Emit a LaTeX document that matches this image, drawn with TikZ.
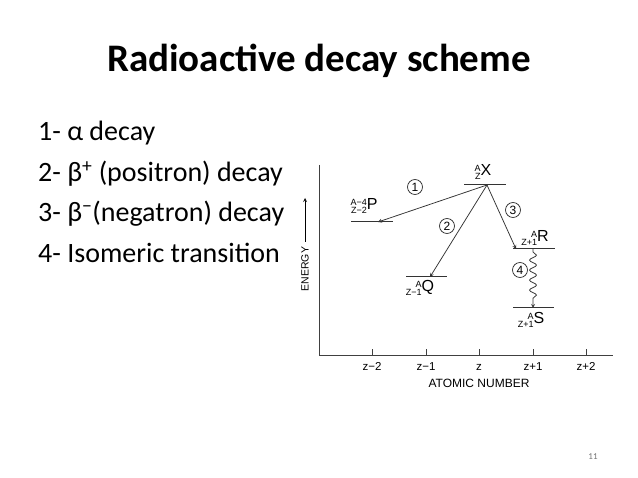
\documentclass[tikz,border=0pt]{standalone}
\usepackage{fontspec}
\setmainfont{Carlito}
\newfontfamily\diagfont{Liberation Sans}
\usetikzlibrary{arrows, decorations.pathmorphing}

\tikzstyle{item} = [anchor=base west, inner sep=0pt, font=\fontsize{28}{28}\selectfont]
\tikzstyle{level} = [line width=1pt, draw=black!80]
\tikzstyle{decay} = [line width=0.75pt, draw=black!80, ->, >=stealth]
\tikzstyle{num} = [circle, draw=black!80, line width=0.75pt, inner sep=0pt, minimum size=15pt, font=\diagfont\fontsize{12}{12}\selectfont]
\tikzstyle{nuc} = [inner sep=0pt, font=\diagfont]

\newcommand{\nucl}[3]{{\fontsize{9}{8}\selectfont\renewcommand{\arraystretch}{0.85}\begin{tabular}{@{}r@{}}#1\\#2\end{tabular}}{\fontsize{16}{16}\selectfont#3}}

\begin{document}
\begin{tikzpicture}[x=1pt, y=-1pt]
    \useasboundingbox (0,0) rectangle (638,478);
    \fill[white] (0,0) rectangle (638,478);

    \node (title) [anchor=base, font=\bfseries\fontsize{39}{39}\selectfont] at (319,72) {Radioactive decay scheme};

    \node (alpha) [item] at (38,141) {1- α decay};
    \node (betaplus) [item] at (38,181.5) {2- β\textsuperscript{+} (positron) decay};
    \node (betaminus) [item] at (38,222) {3- β\textsuperscript{−}(negatron) decay};
    \node (isomeric) [item] at (38,262.5) {4- Isomeric transition};

    % axes
    \coordinate (ytop) at (319,165);
    \coordinate (origin) at (319,355);
    \coordinate (xend) at (613,355);
    \draw[line width=0.9pt, draw=black!75] (ytop) -- (origin) -- (xend);
    \foreach \x/\lab [count=\i] in {372/z−2, 426/z−1, 479/z, 533/z+1, 586/z+2} {
        \draw[line width=0.9pt, draw=black!75] (\x,355) -- (\x,349);
        \node (tick\i) [anchor=base, font=\diagfont\fontsize{11.5}{11.5}\selectfont] at (\x,371) {\lab};
    }
    \node (xlabel) [anchor=base, font=\diagfont\fontsize{12}{12}\selectfont] at (479,388) {ATOMIC NUMBER};
    \node (ylabel) [rotate=90, inner sep=1pt, font=\diagfont\fontsize{10.5}{10.5}\selectfont] at (305,269) {ENERGY};
    \coordinate (yarrow) at (305,198);
    \draw[line width=0.75pt, ->, >=stealth, shorten <=4pt] (ylabel.east) -- (yarrow);

    % levels
    \draw[level] (464,185) -- (506,185);
    \draw[level] (351,222) -- (393,222);
    \draw[level] (406,277) -- (447,277);
    \draw[level] (513,249) -- (555,249);
    \draw[level] (513,308) -- (554,308);

    \coordinate (X) at (487,185);
    \coordinate (P) at (378,222);
    \coordinate (Q) at (430,277);
    \coordinate (R) at (516,249);
    \coordinate (Rtop) at (533,249);
    \coordinate (S) at (533,308);

    \node (Xlab) [nuc] at (483,173) {\nucl{A}{Z}{X}};
    \node (Plab) [nuc] at (364,207) {\nucl{A−4}{Z−2}{P}};
    \node (Qlab) [nuc] at (420,289) {\nucl{A}{Z−1}{Q}};
    \node (Rlab) [nuc] at (535,239) {\nucl{A}{Z+1}{R}};
    \node (Slab) [nuc] at (531,321) {\nucl{A}{Z+1}{S}};

    % decays
    \draw[decay] (X) -- (P);
    \draw[decay] (X) -- (Q);
    \draw[decay] (X) -- (R);
    \draw[decay, decorate, decoration={snake, amplitude=3.5pt, segment length=10pt, pre length=3pt, post length=6pt}] (Rtop) -- (S);

    \node (one) [num] at (415,187) {1};
    \node (two) [num] at (447,226) {2};
    \node (three) [num] at (513,210) {3};
    \node (four) [num] at (520,270) {4};

    \node (page) [text=black!55, font=\fontsize{9}{9}\selectfont] at (593,457) {11};
\end{tikzpicture}
\end{document}
